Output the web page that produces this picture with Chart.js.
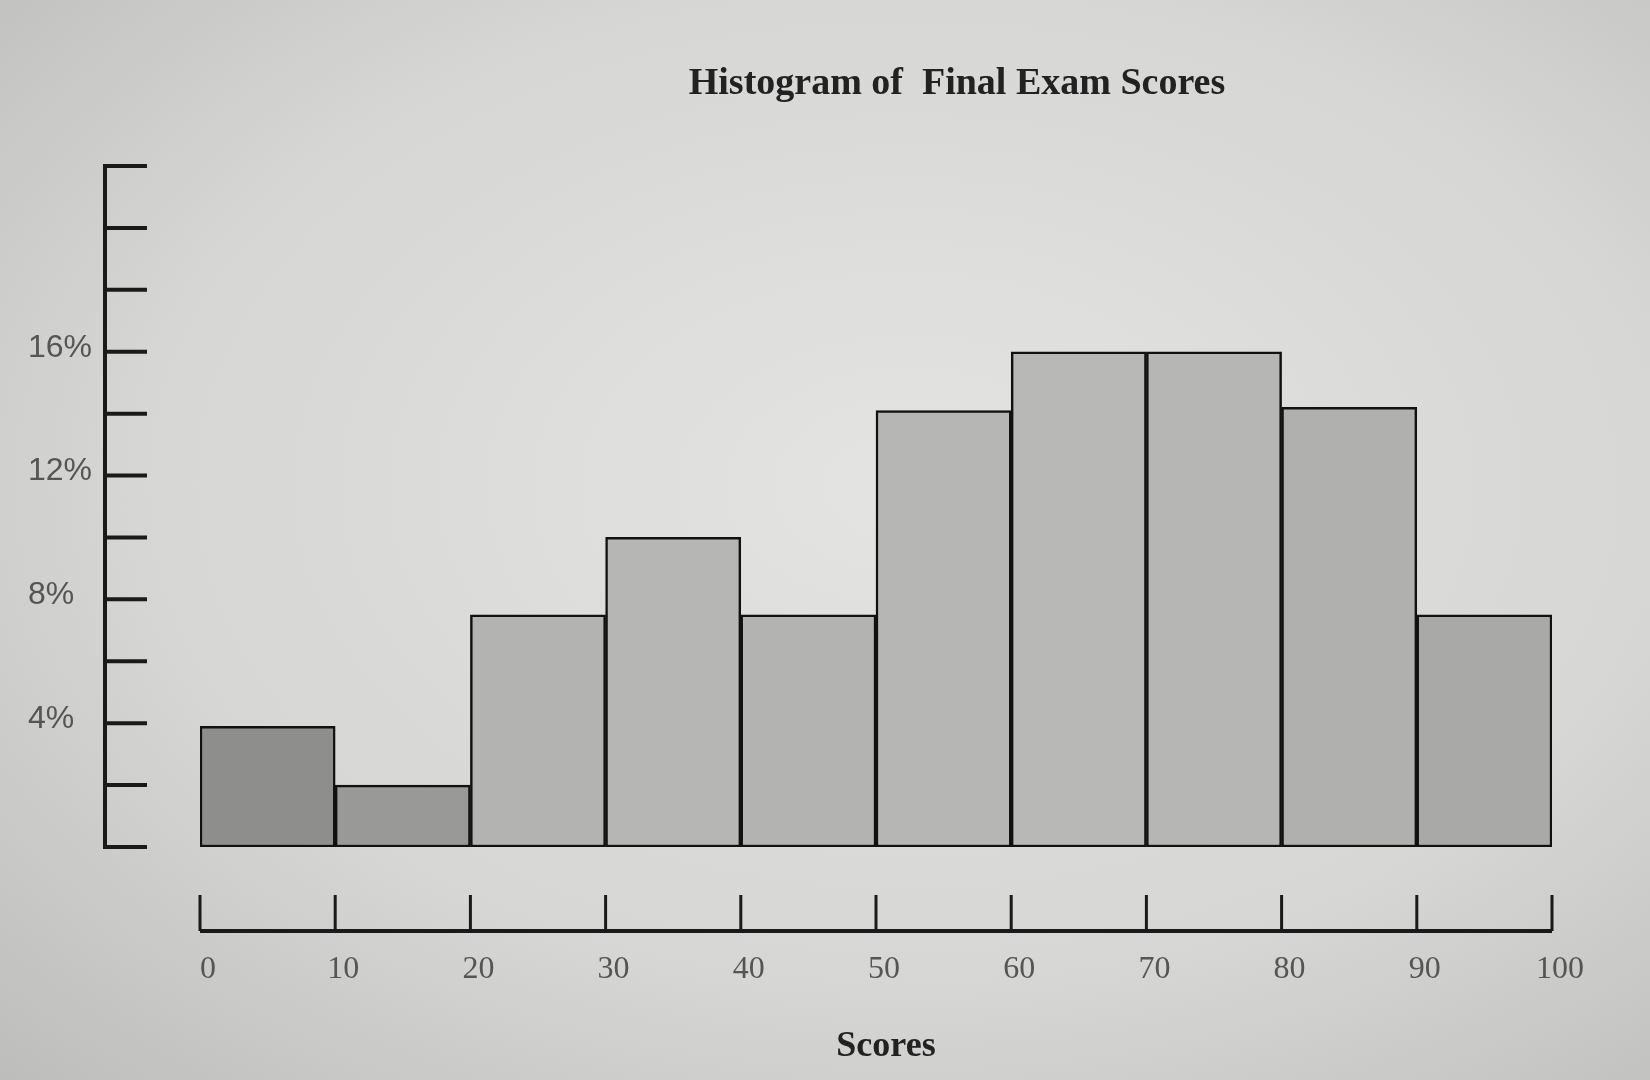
<!DOCTYPE html>
<html><head><meta charset="utf-8">
<script src="https://cdn.jsdelivr.net/npm/chart.js@4"></script>
<style>
html,body{margin:0;padding:0;}
body{width:1650px;height:1080px;background:radial-gradient(ellipse at 55% 45%,#e4e4e2 0%,#d6d6d4 60%,#bdbdbb 100%);}
#c{display:block;}
</style></head><body>
<canvas id="c" width="1650" height="1080"></canvas>
<script>
const categories = ["0-10","10-20","20-30","30-40","40-50","50-60","60-70","70-80","80-90","90-100"];
const percents = [3.9, 2.0, 7.5, 10.0, 7.5, 14.1, 16.0, 16.0, 14.2, 7.5];
const barColors = ["#8e8e8c","#999997","#b3b3b1","#b6b6b4","#b3b3b1","#b6b6b4","#b8b8b6","#b6b6b4","#b0b0ae","#a9a9a7"];
const xTickValues = [0,10,20,30,40,50,60,70,80,90,100];
const yLabelValues = [4,8,12,16];
const yTickValues = [0,2,4,6,8,10,12,14,16,18,20,22];

const axesPlugin = {
  id:'customAxes',
  afterDraw(chart){
    const ctx = chart.ctx, y = chart.scales.y, x = chart.scales.x;
    ctx.save();
    ctx.strokeStyle='#1a1a1a'; ctx.lineWidth=4;
    ctx.beginPath(); ctx.moveTo(105,y.getPixelForValue(22)-2); ctx.lineTo(105,y.getPixelForValue(0)+2); ctx.stroke();
    yTickValues.forEach(v=>{const p=y.getPixelForValue(v);ctx.beginPath();ctx.moveTo(103,p);ctx.lineTo(147,p);ctx.stroke();});
    ctx.fillStyle='#555'; ctx.font='32px "Liberation Sans", Arial, sans-serif'; ctx.textBaseline='middle'; ctx.textAlign='left';
    yLabelValues.forEach(v=>{ctx.fillText(v+'%',28,y.getPixelForValue(v)-4);});
    const step = x.getPixelForValue(1)-x.getPixelForValue(0);
    const x0 = x.getPixelForValue(0) - step/2;
    const px = v => x0 + v/10*step;
    const ay = 931;
    ctx.beginPath(); ctx.moveTo(px(0),ay); ctx.lineTo(px(100),ay); ctx.stroke();
    ctx.lineWidth=3;
    xTickValues.forEach(v=>{ctx.beginPath();ctx.moveTo(px(v),ay);ctx.lineTo(px(v),ay-36);ctx.stroke();});
    ctx.fillStyle='#555'; ctx.font='32px "Liberation Serif", "Times New Roman", serif'; ctx.textAlign='center';
    xTickValues.forEach(v=>{ctx.fillText(String(v),px(v)+8,970);});
    ctx.fillStyle='#222'; ctx.font='bold 36px "Liberation Serif", serif';
    ctx.fillText('Scores',(px(0)+px(100))/2+10,1047);
    ctx.font='bold 38px "Liberation Serif", serif';
    ctx.fillText('Histogram of  Final Exam Scores',957,84);
    ctx.restore();
  }
};

new Chart(document.getElementById('c'),{
  type:'bar',
  data:{labels:categories,datasets:[{data:percents,backgroundColor:barColors,borderColor:'#111',borderWidth:2.5,borderSkipped:false,barPercentage:1,categoryPercentage:1}]},
  options:{
    responsive:false,animation:false,
    layout:{padding:{left:200,right:98,top:166,bottom:233}},
    plugins:{legend:{display:false},tooltip:{enabled:false}},
    scales:{x:{display:false},y:{display:false,min:0,max:22}}
  },
  plugins:[axesPlugin]
});
</script>
</body></html>
